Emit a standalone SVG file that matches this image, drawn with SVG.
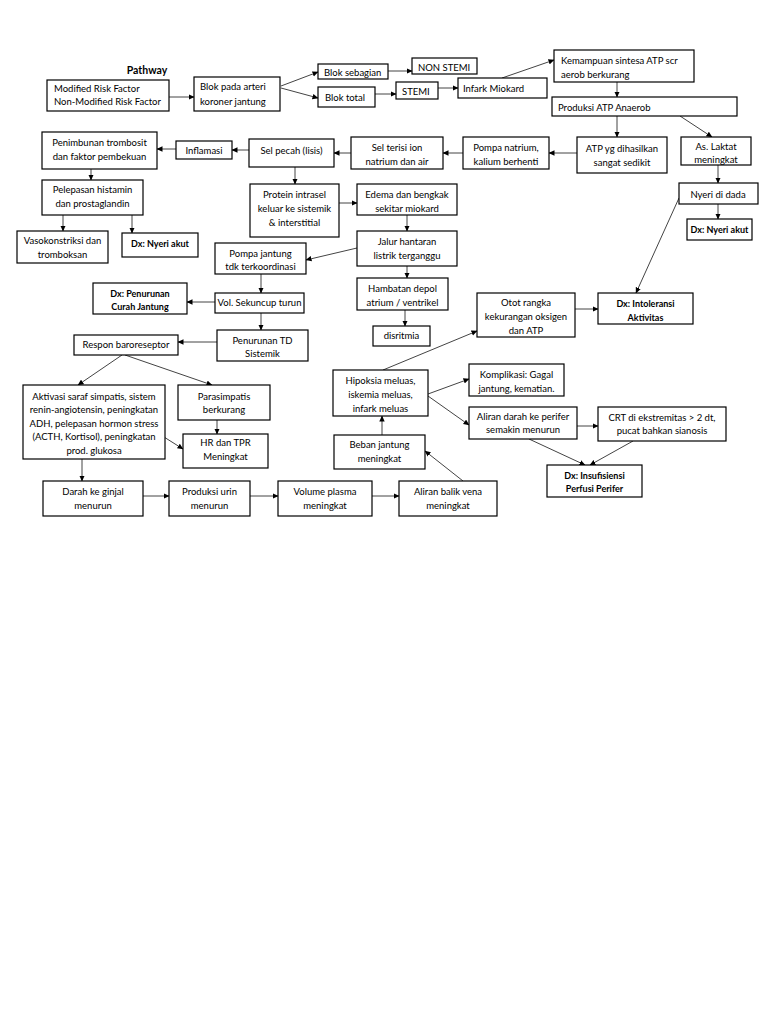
<svg xmlns="http://www.w3.org/2000/svg" width="768" height="1024" viewBox="0 0 768 1024">
<style>
rect{fill:#fff;stroke:#000;stroke-width:1.2}
text{font-family:Lato,"Open Sans",sans-serif;font-size:9.5px;fill:#000}
.c{text-anchor:middle}
.b{font-weight:bold;font-size:9px}
.ln{stroke:#444;stroke-width:1;fill:none;marker-end:url(#ah)}
</style>
<defs>
<marker id="ah" markerUnits="userSpaceOnUse" markerWidth="6" markerHeight="6" refX="5.5" refY="3" orient="auto"><path d="M0,0.3 L6,3 L0,5.7 Z" fill="#000"/></marker>
</defs>
<rect x="0" y="0" width="768" height="1024" style="fill:#fff;stroke:none"/>
<text x="147" y="74" class="c b" style="font-size:10.5px">Pathway</text>
<g id="connectors">
<line class="ln" x1="169" y1="97" x2="194" y2="97"/>
<line class="ln" x1="281" y1="86" x2="318" y2="72"/>
<line class="ln" x1="281" y1="88" x2="318" y2="98"/>
<line class="ln" x1="388" y1="71" x2="412" y2="71"/>
<line class="ln" x1="375" y1="94" x2="396" y2="94"/>
<line class="ln" x1="438" y1="88" x2="458" y2="88"/>
<line class="ln" x1="502" y1="78" x2="554" y2="60"/>
<line class="ln" x1="617" y1="82" x2="617" y2="97"/>
<line class="ln" x1="617" y1="116" x2="617" y2="137"/>
<line class="ln" x1="680" y1="116" x2="712" y2="137"/>
<line class="ln" x1="577" y1="153" x2="549" y2="153"/>
<line class="ln" x1="463" y1="153" x2="443" y2="153"/>
<line class="ln" x1="351" y1="153" x2="334" y2="153"/>
<line class="ln" x1="249" y1="150" x2="232" y2="150"/>
<line class="ln" x1="176" y1="149" x2="157" y2="149"/>
<line class="ln" x1="91" y1="169" x2="91" y2="180"/>
<line class="ln" x1="63" y1="215" x2="63" y2="231"/>
<line class="ln" x1="132" y1="215" x2="132" y2="233"/>
<line class="ln" x1="295" y1="167" x2="295" y2="184"/>
<line class="ln" x1="339" y1="203" x2="357" y2="203"/>
<line class="ln" x1="407" y1="215" x2="407" y2="231"/>
<line class="ln" x1="357" y1="248" x2="306" y2="260"/>
<line class="ln" x1="407" y1="266" x2="407" y2="278"/>
<line class="ln" x1="405" y1="310" x2="405" y2="326"/>
<line class="ln" x1="261" y1="274" x2="261" y2="293"/>
<line class="ln" x1="215" y1="302" x2="187" y2="302"/>
<line class="ln" x1="261" y1="313" x2="261" y2="330"/>
<line class="ln" x1="217" y1="342" x2="178" y2="342"/>
<line class="ln" x1="122" y1="355" x2="78" y2="385"/>
<line class="ln" x1="125" y1="355" x2="212" y2="385"/>
<line class="ln" x1="217" y1="420" x2="217" y2="434"/>
<line class="ln" x1="164" y1="437" x2="183" y2="449"/>
<line class="ln" x1="82" y1="459" x2="82" y2="481"/>
<line class="ln" x1="143" y1="496" x2="169" y2="496"/>
<line class="ln" x1="250" y1="496" x2="278" y2="496"/>
<line class="ln" x1="372" y1="496" x2="399" y2="496"/>
<line class="ln" x1="463" y1="481" x2="425" y2="451"/>
<line class="ln" x1="382" y1="435" x2="382" y2="416"/>
<line class="ln" x1="383" y1="370" x2="477" y2="331"/>
<line class="ln" x1="428" y1="394" x2="469" y2="379"/>
<line class="ln" x1="428" y1="396" x2="469" y2="425"/>
<line class="ln" x1="575" y1="309" x2="598" y2="309"/>
<line class="ln" x1="679" y1="198" x2="636" y2="293"/>
<line class="ln" x1="718" y1="165" x2="718" y2="183"/>
<line class="ln" x1="718" y1="204" x2="718" y2="219"/>
<line class="ln" x1="577" y1="426" x2="598" y2="426"/>
<line class="ln" x1="529" y1="439" x2="585" y2="465"/>
<line class="ln" x1="633" y1="441" x2="590" y2="465"/>
</g>
<g id="risk"><rect x="47" y="80" width="122" height="31"/><text x="54" y="92">Modified Risk Factor</text><text x="54" y="105">Non-Modified Risk Factor</text></g>
<g id="blok_arteri"><rect x="194" y="77" width="86" height="34"/><text x="200" y="90">Blok pada arteri</text><text x="200" y="105">koroner jantung</text></g>
<g id="blok_sebagian"><rect x="318" y="64" width="70" height="15"/><text x="324" y="75.5">Blok sebagian</text></g>
<g id="blok_total"><rect x="318" y="87" width="57" height="20"/><text x="325" y="100.5">Blok total</text></g>
<g id="non_stemi"><rect x="412" y="58" width="65" height="16"/><text x="418" y="70.5">NON STEMI</text></g>
<g id="stemi"><rect x="396" y="82" width="42" height="17"/><text x="402" y="95">STEMI</text></g>
<g id="infark"><rect x="458" y="78" width="89" height="20"/><text x="463" y="91.5">Infark Miokard</text></g>
<g id="kemampuan"><rect x="554" y="50" width="140" height="32"/><text x="561" y="63.5">Kemampuan sintesa ATP scr</text><text x="561" y="77.5">aerob berkurang</text></g>
<g id="produksi_atp"><rect x="552" y="97" width="185" height="19"/><text x="558" y="110.5">Produksi ATP Anaerob</text></g>
<g id="atp_sedikit"><rect x="577" y="137" width="90" height="36"/><text x="622" y="151.5" class="c">ATP yg dihasilkan</text><text x="622" y="165.5" class="c">sangat sedikit</text></g>
<g id="laktat"><rect x="681" y="137" width="70" height="28"/><text x="716" y="149.5" class="c">As. Laktat</text><text x="716" y="163" class="c">meningkat</text></g>
<g id="nyeri_dada"><rect x="679" y="183" width="79" height="21"/><text x="718" y="197.5" class="c">Nyeri di dada</text></g>
<g id="dx_nyeri_kanan"><rect x="687" y="219" width="65" height="21"/><text x="719.5" y="233" class="c b">Dx: Nyeri akut</text></g>
<g id="pompa_natrium"><rect x="463" y="137" width="86" height="32"/><text x="506" y="150.5" class="c">Pompa natrium,</text><text x="506" y="165" class="c">kalium berhenti</text></g>
<g id="sel_terisi"><rect x="351" y="137" width="92" height="32"/><text x="397" y="150.5" class="c">Sel terisi ion</text><text x="397" y="165" class="c">natrium dan air</text></g>
<g id="sel_pecah"><rect x="249" y="139" width="85" height="28"/><text x="291.5" y="154" class="c">Sel pecah (lisis)</text></g>
<g id="inflamasi"><rect x="176" y="141" width="56" height="18"/><text x="204" y="153.5" class="c">Inflamasi</text></g>
<g id="penimbunan"><rect x="42" y="132" width="115" height="37"/><text x="99.5" y="145.5" class="c">Penimbunan trombosit</text><text x="99.5" y="159.5" class="c">dan faktor pembekuan</text></g>
<g id="pelepasan"><rect x="42" y="180" width="101" height="35"/><text x="92.5" y="192.5" class="c">Pelepasan histamin</text><text x="92.5" y="206.5" class="c">dan prostaglandin</text></g>
<g id="vasokonstriksi"><rect x="17" y="231" width="91" height="32"/><text x="62.5" y="243.5" class="c">Vasokonstriksi dan</text><text x="62.5" y="257.5" class="c">tromboksan</text></g>
<g id="dx_nyeri_kiri"><rect x="122" y="233" width="76" height="24"/><text x="160" y="246.5" class="c b">Dx: Nyeri akut</text></g>
<g id="protein"><rect x="250" y="184" width="89" height="53"/><text x="294.5" y="197.5" class="c">Protein intrasel</text><text x="294.5" y="211.5" class="c">keluar ke sistemik</text><text x="294.5" y="225.5" class="c">&amp; interstitial</text></g>
<g id="edema"><rect x="357" y="184" width="100" height="31"/><text x="407" y="197.5" class="c">Edema dan bengkak</text><text x="407" y="211.5" class="c">sekitar miokard</text></g>
<g id="jalur"><rect x="357" y="231" width="100" height="35"/><text x="407" y="244.5" class="c">Jalur hantaran</text><text x="407" y="258.5" class="c">listrik terganggu</text></g>
<g id="pompa_jantung"><rect x="215" y="243" width="91" height="31"/><text x="260.5" y="256.5" class="c">Pompa jantung</text><text x="260.5" y="270" class="c">tdk terkoordinasi</text></g>
<g id="hambatan"><rect x="357" y="278" width="91" height="32"/><text x="402.5" y="291.5" class="c">Hambatan depol</text><text x="402.5" y="305.5" class="c">atrium / ventrikel</text></g>
<g id="disritmia"><rect x="373" y="326" width="57" height="20"/><text x="401.5" y="339" class="c">disritmia</text></g>
<g id="vol_sekuncup"><rect x="215" y="293" width="89" height="20"/><text x="259.5" y="306" class="c">Vol. Sekuncup turun</text></g>
<g id="dx_curah"><rect x="93" y="283" width="94" height="31"/><text x="140" y="296.5" class="c b">Dx: Penurunan</text><text x="140" y="310" class="c b">Curah Jantung</text></g>
<g id="penurunan_td"><rect x="217" y="330" width="91" height="31"/><text x="262.5" y="343.5" class="c">Penurunan TD</text><text x="262.5" y="356.5" class="c">Sistemik</text></g>
<g id="respon"><rect x="74" y="335" width="104" height="20"/><text x="126" y="348" class="c">Respon baroreseptor</text></g>
<g id="aktivasi"><rect x="23" y="385" width="142" height="74"/><text x="94" y="399.5" class="c">Aktivasi saraf simpatis, sistem</text><text x="94" y="413" class="c">renin-angiotensin, peningkatan</text><text x="94" y="426.5" class="c">ADH, pelepasan hormon stress</text><text x="94" y="440" class="c">(ACTH, Kortisol), peningkatan</text><text x="94" y="453.5" class="c">prod. glukosa</text></g>
<g id="parasimpatis"><rect x="178" y="385" width="92" height="35"/><text x="224" y="399.5" class="c">Parasimpatis</text><text x="224" y="413" class="c">berkurang</text></g>
<g id="hr_tpr"><rect x="183" y="434" width="85" height="34"/><text x="225.5" y="445.5" class="c">HR dan TPR</text><text x="225.5" y="460" class="c">Meningkat</text></g>
<g id="darah_ginjal"><rect x="43" y="481" width="100" height="35"/><text x="93" y="494.5" class="c">Darah ke ginjal</text><text x="93" y="508.5" class="c">menurun</text></g>
<g id="produksi_urin"><rect x="169" y="481" width="81" height="35"/><text x="209.5" y="494.5" class="c">Produksi urin</text><text x="209.5" y="508.5" class="c">menurun</text></g>
<g id="volume_plasma"><rect x="278" y="481" width="94" height="35"/><text x="325" y="494.5" class="c">Volume plasma</text><text x="325" y="508.5" class="c">meningkat</text></g>
<g id="aliran_balik"><rect x="399" y="481" width="98" height="35"/><text x="448" y="494.5" class="c">Aliran balik vena</text><text x="448" y="508.5" class="c">meningkat</text></g>
<g id="beban"><rect x="334" y="435" width="91" height="34"/><text x="379.5" y="447.5" class="c">Beban jantung</text><text x="379.5" y="461.5" class="c">meningkat</text></g>
<g id="hipoksia"><rect x="333" y="370" width="95" height="46"/><text x="380.5" y="383.5" class="c">Hipoksia meluas,</text><text x="380.5" y="397.5" class="c">iskemia meluas,</text><text x="380.5" y="411.5" class="c">infark meluas</text></g>
<g id="otot"><rect x="477" y="293" width="98" height="44"/><text x="526" y="305.5" class="c">Otot rangka</text><text x="526" y="320" class="c">kekurangan oksigen</text><text x="526" y="334" class="c">dan ATP</text></g>
<g id="dx_intoleransi"><rect x="598" y="293" width="95" height="31"/><text x="645.5" y="306.5" class="c b">Dx: Intoleransi</text><text x="645.5" y="320.5" class="c b">Aktivitas</text></g>
<g id="komplikasi"><rect x="469" y="364" width="95" height="32"/><text x="516.5" y="377.5" class="c">Komplikasi: Gagal</text><text x="516.5" y="391.5" class="c">jantung, kematian.</text></g>
<g id="aliran_perifer"><rect x="469" y="407" width="108" height="32"/><text x="523" y="419.5" class="c">Aliran darah ke perifer</text><text x="523" y="433" class="c">semakin menurun</text></g>
<g id="crt"><rect x="598" y="407" width="128" height="34"/><text x="662" y="420.5" class="c">CRT di ekstremitas &gt; 2 dt,</text><text x="662" y="433.5" class="c">pucat bahkan sianosis</text></g>
<g id="dx_insufisiensi"><rect x="547" y="465" width="95" height="32"/><text x="594.5" y="478.5" class="c b">Dx: Insufisiensi</text><text x="594.5" y="491.5" class="c b">Perfusi Perifer</text></g>
</svg>
